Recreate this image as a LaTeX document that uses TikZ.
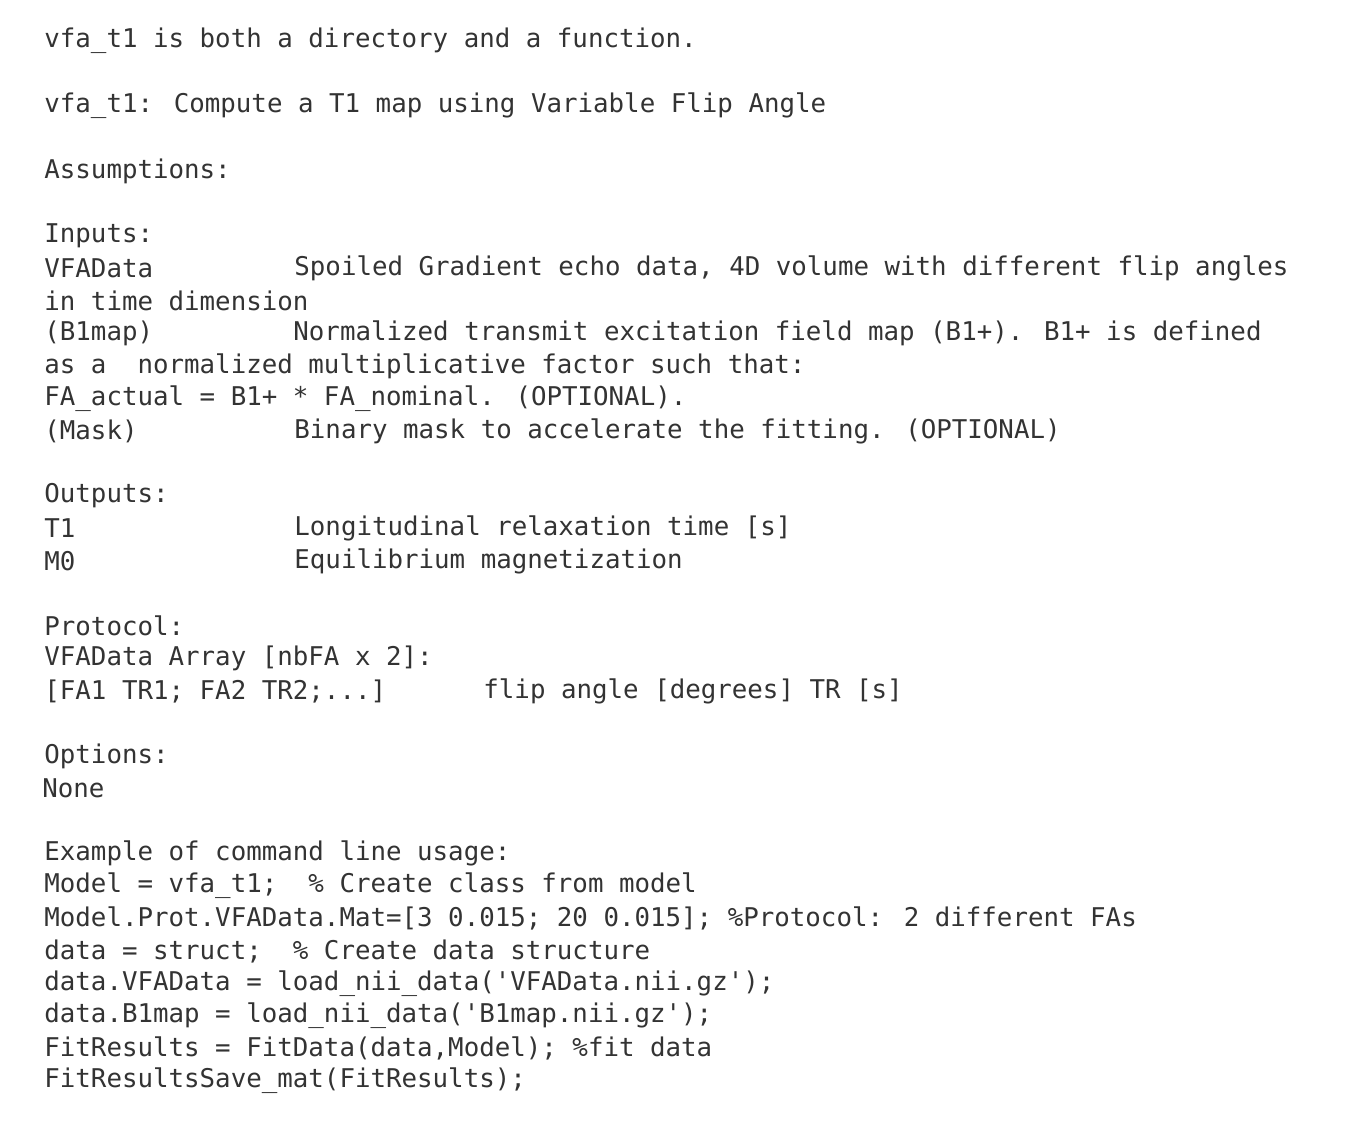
\documentclass[tikz,border=0pt]{standalone}
\usepackage{fontspec}
\newfontfamily\mono{DejaVu Sans Mono}
\definecolor{txt}{HTML}{333333}
\begin{document}
\begin{tikzpicture}[x=0.5pt,y=-0.5pt,every node/.style={anchor=west,inner sep=0pt,font=\mono\fontsize{12.9pt}{15pt}\selectfont,text=txt}]
\useasboundingbox[fill=white] (0,0) rectangle (1358,1120);
\def\L#1{(41+32.5*#1)}
\node (l0) at (44,41) {vfa\_t1 is both a directory and a function.};
\node (l2) at (44,106) {vfa\_t1: Compute a T1 map using Variable Flip Angle};
\node (l4) at (44,171) {Assumptions:};
\node (l6) at (44,236) {Inputs:};
\node (l7a) at (44,268.5) {VFAData};
\node (l7b) at (294,268.5) {Spoiled Gradient echo data, 4D volume with different flip angles};
\node (l8) at (44,301) {in time dimension};
\node (l9a) at (44,333.5) {(B1map)};
\node (l9b) at (293,333.5) {Normalized transmit excitation field map (B1+). B1+ is defined};
\node (l10) at (44,366) {as a\ \ normalized multiplicative factor such that:};
\node (l11) at (44,398.5) {FA\_actual = B1+ * FA\_nominal. (OPTIONAL).};
\node (l12a) at (44,431) {(Mask)};
\node (l12b) at (294,431) {Binary mask to accelerate the fitting. (OPTIONAL)};
\node (l14) at (44,496) {Outputs:};
\node (l15a) at (44,528.5) {T1};
\node (l15b) at (294,528.5) {Longitudinal relaxation time [s]};
\node (l16a) at (44,561) {M0};
\node (l16b) at (294,561) {Equilibrium magnetization};
\node (l18) at (44,626) {Protocol:};
\node (l19) at (44,658.5) {VFAData Array [nbFA x 2]:};
\node (l20a) at (44,691) {[FA1 TR1; FA2 TR2;...]};
\node (l20b) at (483,691) {flip angle [degrees] TR [s]};
\node (l22) at (44,756) {Options:};
\node (l23) at (42,788.5) {None};
\node (l25) at (44,853.5) {Example of command line usage:};
\node (l26) at (44,886) {Model = vfa\_t1;\ \ \% Create class from model};
\node (l27) at (44,918.5) {Model.Prot.VFAData.Mat=[3 0.015; 20 0.015]; \%Protocol: 2 different FAs};
\node (l28) at (44,951) {data = struct;\ \ \% Create data structure};
\node (l29) at (44,983.5) {data.VFAData = load\_nii\_data('VFAData.nii.gz');};
\node (l30) at (44,1016) {data.B1map = load\_nii\_data('B1map.nii.gz');};
\node (l31) at (44,1048.5) {FitResults = FitData(data,Model); \%fit data};
\node (l32) at (44,1081) {FitResultsSave\_mat(FitResults);};
\end{tikzpicture}
\end{document}
